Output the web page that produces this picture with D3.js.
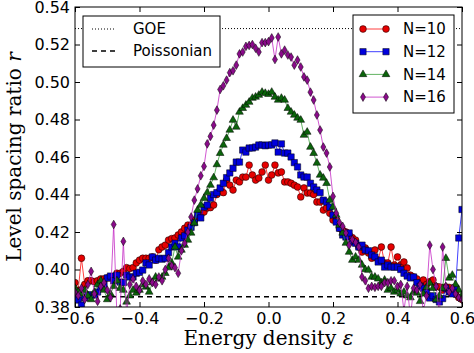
<!DOCTYPE html>
<html>
<head>
<meta charset="utf-8">
<script src="https://cdn.jsdelivr.net/npm/d3@7"></script>
<style>
body{margin:0;background:#fff;}
.tick text{font-family:"DejaVu Sans",sans-serif;font-size:16px;fill:#000;}
.tick line{stroke:#000;stroke-width:1;}
.axis-label{font-family:"DejaVu Serif",serif;font-size:20px;fill:#000;}
.legend text{font-family:"DejaVu Sans",sans-serif;font-size:15px;fill:#000;}
</style>
</head>
<body>
<svg id="chart" width="474" height="353"></svg>
<script>
// energy grid (bin centres)
var energy = [
-0.60,-0.59,-0.58,-0.57,-0.56,-0.55,-0.54,-0.53,-0.52,-0.51,
-0.50,-0.49,-0.48,-0.47,-0.46,-0.45,-0.44,-0.43,-0.42,-0.41,
-0.40,-0.39,-0.38,-0.37,-0.36,-0.35,-0.34,-0.33,-0.32,-0.31,
-0.30,-0.29,-0.28,-0.27,-0.26,-0.25,-0.24,-0.23,-0.22,-0.21,
-0.20,-0.19,-0.18,-0.17,-0.16,-0.15,-0.14,-0.13,-0.12,-0.11,
-0.10,-0.09,-0.08,-0.07,-0.06,-0.05,-0.04,-0.03,-0.02,-0.01,
0.00,0.01,0.02,0.03,0.04,0.05,0.06,0.07,0.08,0.09,
0.10,0.11,0.12,0.13,0.14,0.15,0.16,0.17,0.18,0.19,
0.20,0.21,0.22,0.23,0.24,0.25,0.26,0.27,0.28,0.29,
0.30,0.31,0.32,0.33,0.34,0.35,0.36,0.37,0.38,0.39,
0.40,0.41,0.42,0.43,0.44,0.45,0.46,0.47,0.48,0.49,
0.50,0.51,0.52,0.53,0.54,0.55,0.56,0.57,0.58,0.59,
0.60];

var rN10 = [
.393,.389,.406,.392,.394,.394,.3935,.394,.395,.395,
.3955,.3955,.396,.398,.398,.399,.401,.4005,.401,.4035,
.405,.406,.406,.406,.4067,.405,.4105,.412,.413,.4157,
.4165,.4168,.4184,.420,.422,.4237,.4237,.426,.428,.429,
.4307,.4328,.433,.4344,.440,.4424,.441,.4477,.445,.4424,
.4477,.4467,.4493,.4493,.4557,.4504,.4477,.4488,.452,.4557,
.4477,.4504,.4557,.4515,.452,.4467,.4467,.446,.445,.444,
.4387,.4435,.4408,.4408,.440,.436,.436,.4317,.4328,.430,
.4264,.4264,.422,.421,.420,.4184,.417,.4157,.412,.4093,
.4115,.4088,.406,.4104,.405,.412,.4035,.4035,.412,.4024,
.4067,.4024,.404,.4008,.397,.396,.395,.393,.3944,.392,
.3935,.3944,.391,.3907,.389,.3907,.3905,.388,.387,.385,
.384];

var rN12 = [
.386,.3837,.381,.385,.3864,.3864,.3864,.388,.3907,.392,
.3955,.3965,.394,.397,.3933,.393,.397,.396,.396,.398,
.3985,.3997,.4035,.4024,.4067,.405,.406,.4055,.406,.409,
.412,.414,.412,.4168,.418,.421,.4225,.425,.429,.4275,
.4333,.4344,.438,.440,.441,.4435,.446,.449,.4515,.454,
.4573,.4573,.4637,.4626,.4648,.4648,.4653,.4664,.4664,.466,
.4664,.4664,.4675,.4626,.467,.4621,.4621,.460,.457,.4547,
.4504,.4493,.4493,.446,.444,.4424,.441,.437,.436,.4333,
.429,.4253,.422,.4184,.4173,.4195,.4147,.414,.412,.413,
.4104,.410,.4077,.4067,.404,.405,.4013,.4024,.4013,.4013,
.4013,.400,.398,.3965,.3955,.396,.393,.391,.390,.388,
.3848,.386,.384,.3827,.3845,.390,.388,.387,.390,.4168,
.432];

var rN14 = [
.390,.388,.387,.389,.386,.384,.388,.392,.394,.389,
.384,.387,.391,.394,.390,.389,.3827,.386,.389,.3875,
.389,.392,.3907,.388,.393,.396,.395,.396,.398,.401,
.4035,.412,.4067,.4104,.413,.4157,.4195,.4248,.4317,.4344,
.438,.441,.445,.449,.456,.462,.4664,.470,.4744,.4797,
.476,.484,.486,.4877,.4893,.4914,.492,.493,.4946,.494,
.4935,.4946,.492,.4904,.4914,.4904,.486,.484,.4824,.4808,
.4797,.4717,.4733,.4653,.462,.4568,.4504,.4488,.446,.437,
.4333,.429,.4237,.4195,.4141,.4093,.405,.4067,.405,.4024,
.400,.3997,.396,.396,.395,.393,.3944,.389,.390,.388,
.389,.387,.388,.386,.385,.388,.3875,.383,.387,.3905,
.3928,.390,.384,.386,.390,.406,.3955,.397,.392,.389,
.386];

var rN16 = [
.388,.386,.390,.384,.392,.399,.387,.383,.391,.393,
.389,.385,.424,.375,.379,.415,.376,.392,.395,.391,
.389,.394,.392,.395,.393,.392,.396,.394,.400,.406,
.402,.401,.398,.410,.414,.420,.428,.437,.443,.450,
.455,.467,.471,.477,.485,.496,.498,.501,.505,.506,
.509,.515,.516,.519,.5195,.520,.518,.516,.521,.521,
.5215,.5235,.512,.524,.515,.517,.5144,.5133,.509,.5117,
.508,.5027,.501,.4946,.4904,.4824,.4744,.4653,.4621,.4547,
.439,.430,.425,.423,.4195,.413,.416,.4145,.412,.396,
.394,.390,.391,.3905,.391,.391,.393,.393,.394,.394,
.391,.392,.378,.391,.375,.390,.389,.392,.378,.386,
.413,.400,.391,.376,.412,.391,.388,.390,.387,.385,
.384];

var seriesNames = ["N=10", "N=12", "N=14", "N=16"];
var seriesValues = [rN10, rN12, rN14, rN16];
var refNames = ["GOE", "Poissonian"];
var refValues = [0.5285, 0.3855];
var xTicks = [-0.6, -0.4, -0.2, 0.0, 0.2, 0.4, 0.6];
var yTicks = [0.38, 0.40, 0.42, 0.44, 0.46, 0.48, 0.50, 0.52, 0.54];

// styles
var styles = [
  {line: "#ff0000", fill: "#e60000", symbol: d3.symbolCircle, size: 36},
  {line: "#0000ff", fill: "#0000dd", symbol: d3.symbolSquare, size: 40},
  {line: "#2e9a2e", fill: "#0b640b", symbol: d3.symbolTriangle, size: 26},
  {line: "#c21fc2", fill: "#8a0a8a", symbol: d3.symbolDiamond, size: 22}
];
var refDash = ["1,2", "5,4"];

var margin = {top: 7, right: 12, bottom: 46, left: 75},
    width = 474 - margin.left - margin.right,
    height = 353 - margin.top - margin.bottom;

var svg = d3.select("#chart");
var g = svg.append("g").attr("transform", "translate(" + margin.left + "," + margin.top + ")");

var x = d3.scaleLinear().domain([-0.6, 0.6]).range([0, width]);
var y = d3.scaleLinear().domain([0.38, 0.54]).range([height, 0]);

g.append("clipPath").attr("id", "clip")
  .append("rect").attr("width", width).attr("height", height);

var plot = g.append("g").attr("clip-path", "url(#clip)");

// reference levels
refValues.forEach(function(v, i) {
  plot.append("line")
    .attr("x1", 0).attr("x2", width)
    .attr("y1", y(v)).attr("y2", y(v))
    .attr("stroke", "#000")
    .attr("stroke-width", i == 0 ? 1 : 1.5)
    .attr("stroke-dasharray", refDash[i]);
});

// series
seriesValues.forEach(function(vals, i) {
  var pts = energy.map(function(e, j) { return {e: e, r: vals[j]}; });
  var st = styles[i];
  var line = d3.line().x(function(d) { return x(d.e); }).y(function(d) { return y(d.r); });
  var sg = plot.append("g");
  sg.append("path").datum(pts)
    .attr("d", line)
    .attr("fill", "none")
    .attr("stroke", st.line)
    .attr("stroke-opacity", 0.75)
    .attr("stroke-width", 1);
  sg.selectAll("path.mk").data(pts).enter().append("path")
    .attr("class", "mk")
    .attr("transform", function(d) { return "translate(" + x(d.e) + "," + y(d.r) + ")"; })
    .attr("d", d3.symbol().type(st.symbol).size(st.size))
    .attr("fill", st.fill)
    .attr("stroke", "#000")
    .attr("stroke-width", 0.5);
});

// axes (inward ticks on all four sides)
var fmtX = d3.format(".1f"), fmtY = d3.format(".2f");
g.append("g").attr("transform", "translate(0," + height + ")")
  .call(d3.axisBottom(x).tickValues(xTicks).tickFormat(fmtX).tickSize(-5).tickPadding(6))
  .call(function(a) { a.select(".domain").remove(); });
g.append("g")
  .call(d3.axisTop(x).tickValues(xTicks).tickFormat("").tickSize(-5))
  .call(function(a) { a.select(".domain").remove(); });
g.append("g")
  .call(d3.axisLeft(y).tickValues(yTicks).tickFormat(fmtY).tickSize(-5).tickPadding(5))
  .call(function(a) { a.select(".domain").remove(); });
g.append("g").attr("transform", "translate(" + width + ",0)")
  .call(d3.axisRight(y).tickValues(yTicks).tickFormat("").tickSize(-5))
  .call(function(a) { a.select(".domain").remove(); });
g.selectAll(".tick text").attr("font-family", null).attr("font-size", null);

g.append("rect")
  .attr("width", width).attr("height", height)
  .attr("fill", "none").attr("stroke", "#000").attr("stroke-width", 1);

// axis labels
svg.append("text").attr("class", "axis-label")
  .attr("x", margin.left + width / 2).attr("y", 345)
  .attr("text-anchor", "middle")
  .html('Energy density <tspan font-style="italic">ε</tspan>');
svg.append("text").attr("class", "axis-label")
  .attr("transform", "translate(21," + (margin.top + height / 2) + ") rotate(-90)")
  .attr("text-anchor", "middle")
  .html('Level spacing ratio <tspan font-style="italic">r</tspan>');

// legend: reference lines
var leg1 = g.append("g").attr("class", "legend").attr("transform", "translate(8,9)");
leg1.append("rect").attr("width", 137).attr("height", 51)
  .attr("fill", "#fff").attr("stroke", "#000").attr("stroke-width", 1);
refNames.forEach(function(n, i) {
  var yy = 13 + i * 22;
  leg1.append("line").attr("x1", 9).attr("x2", 33).attr("y1", yy).attr("y2", yy)
    .attr("stroke", "#000").attr("stroke-width", i == 0 ? 1 : 1.5)
    .attr("stroke-dasharray", refDash[i]);
  leg1.append("text").attr("x", 50).attr("y", yy).attr("dy", "0.35em").text(n);
});

// legend: series
var leg2 = g.append("g").attr("class", "legend").attr("transform", "translate(278,8)");
leg2.append("rect").attr("width", 101).attr("height", 98)
  .attr("fill", "#fff").attr("stroke", "#000").attr("stroke-width", 1);
seriesNames.forEach(function(n, i) {
  var st = styles[i];
  var yy = 14 + i * 22.7;
  leg2.append("line").attr("x1", 10).attr("x2", 33).attr("y1", yy).attr("y2", yy)
    .attr("stroke", st.line).attr("stroke-opacity", 0.75);
  [10, 33].forEach(function(px) {
    leg2.append("path")
      .attr("transform", "translate(" + px + "," + yy + ")")
      .attr("d", d3.symbol().type(st.symbol).size(st.size))
      .attr("fill", st.fill).attr("stroke", "#000").attr("stroke-width", 0.5);
  });
  leg2.append("text").attr("x", 50).attr("y", yy).attr("dy", "0.35em").text(n);
});
</script>
</body>
</html>
